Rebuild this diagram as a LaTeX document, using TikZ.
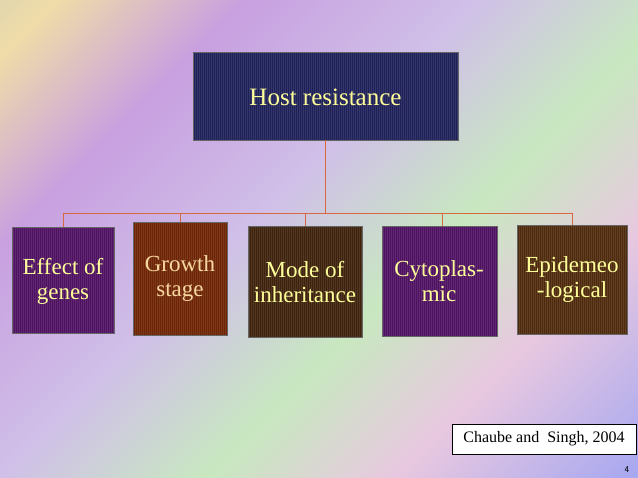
\documentclass[tikz,border=0pt]{standalone}
\usepackage{fontspec}
\setmainfont{Liberation Serif}
\definecolor{bgA}{HTML}{A8C0C8}
\definecolor{bgB}{HTML}{F0DCA8}
\definecolor{bgC}{HTML}{C8A0E0}
\definecolor{bgD}{HTML}{D0C0E8}
\definecolor{bgE}{HTML}{C8E8C0}
\definecolor{bgF}{HTML}{E8C8E0}
\definecolor{bgG}{HTML}{A8A8F0}
\definecolor{bgH}{HTML}{C8E8E0}
\pgfdeclarehorizontalshading{rainbow}{100bp}{color(0bp)=(bgA); color(18bp)=(bgB); color(30bp)=(bgC); color(45bp)=(bgD); color(58bp)=(bgE); color(70bp)=(bgF); color(85bp)=(bgG); color(100bp)=(bgH)}
\definecolor{navy}{HTML}{1E2058}
\definecolor{purp}{HTML}{4E1060}
\definecolor{rust}{HTML}{6E2404}
\definecolor{brn}{HTML}{3E220C}
\definecolor{brn2}{HTML}{4E2A0C}
\definecolor{txt}{HTML}{FFFF99}
\definecolor{txt2}{HTML}{F8D8A0}
\definecolor{conn}{HTML}{D86840}
\begin{document}
\begin{tikzpicture}[x=1pt,y=-1pt,
  box/.style={inner sep=0pt, font=\fontsize{23}{25}\selectfont, align=center, text=txt},
  link/.style={draw=conn, line width=0.9pt}]
\useasboundingbox (0,0) rectangle (638,478);
\shade[shading=rainbow, shading angle=-45] (0,0) rectangle (638,478);
\newcommand\stbox[5]{%
  \fill[#5] (#1,#2) rectangle (#3,#4);
  \foreach \xx in {#1,...,#3} {\ifodd\xx\draw[white,opacity=0.10,line width=0.5pt] (\xx,#2) -- (\xx,#4);\fi}
  \draw[black!60, line width=0.4pt] (#1,#2) rectangle (#3,#4);
}
\stbox{193}{52}{458}{140}{navy}
\node[box,font=\fontsize{25}{27}\selectfont] (top) at (325.5,97) {Host resistance};
\stbox{12}{227}{114}{333}{purp}
\stbox{133}{222}{227}{335}{rust}
\stbox{248}{226}{362}{337}{brn}
\stbox{382}{226}{497}{336}{purp}
\stbox{517}{225}{627}{334}{brn2}
\node[box] (b1) at (63,281) {Effect of\\genes};
\node[box,text=txt2] (b2) at (180,279) {Growth\\stage};
\node[box] (b3) at (305,282) {Mode of\\inheritance};
\node[box] (b4) at (439,281) {Cytoplas-\\mic};
\node[box] (b5) at (572,280) {Epidemeo\\-logical};
\coordinate (c0) at (325.5,140);
\coordinate (hub) at (325.5,213);
\coordinate (t1) at (63,227);
\coordinate (t2) at (180,222);
\coordinate (t3) at (305,226);
\coordinate (t4) at (442,226);
\coordinate (t5) at (572,225);
\draw[link] (c0) -- (hub);
\draw[link] (t1 |- hub) -- (t5 |- hub);
\foreach \t in {t1,t2,t3,t4,t5} {\draw[link] (\t |- hub) -- (\t);}
\node[draw=black, fill=white, minimum width=184pt, minimum height=30pt, inner sep=0pt, font=\fontsize{16}{17}\selectfont] (cite) at (544,439) {Chaube and\ \ Singh, 2004};
\node[font=\sffamily\fontsize{9}{9}\selectfont] (pg) at (627,470) {4};
\end{tikzpicture}
\end{document}
